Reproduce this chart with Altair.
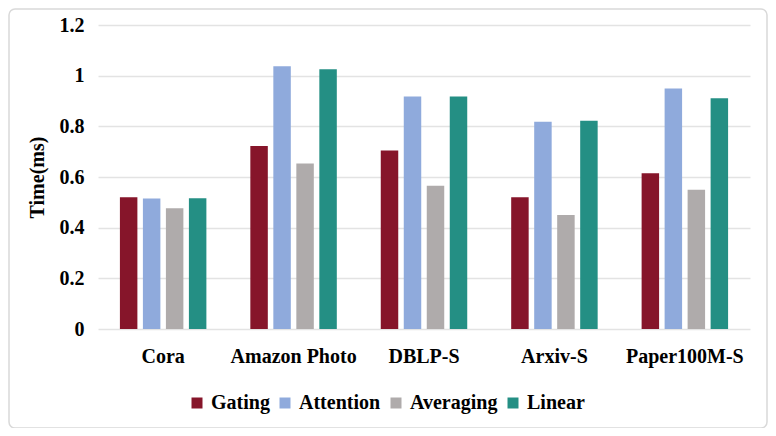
import altair as alt
import pandas as pd

datasets = ["Cora", "Amazon Photo", "DBLP-S", "Arxiv-S", "Paper100M-S"]
methods = ["Gating", "Attention", "Averaging", "Linear"]
colors = ["#86152A", "#8FAADC", "#AFABAB", "#248F84"]

gating = [0.52, 0.722, 0.705, 0.52, 0.615]
attention = [0.515, 1.037, 0.918, 0.818, 0.949]
averaging = [0.477, 0.653, 0.565, 0.45, 0.55]
linear = [0.516, 1.025, 0.918, 0.822, 0.911]

rows = []
for name, vals in zip(methods, [gating, attention, averaging, linear]):
    for ds, v in zip(datasets, vals):
        rows.append({"Dataset": ds, "Method": name, "Time": v})
df = pd.DataFrame(rows)

FONT = "Liberation Serif"
FS = 20
W, H = 652, 304

bars = (
    alt.Chart(df)
    .mark_bar()
    .encode(
        x=alt.X(
            "Dataset:N",
            sort=datasets,
            title=None,
            scale=alt.Scale(paddingInner=0.337, paddingOuter=0.168),
            axis=alt.Axis(
                labelAngle=0,
                labelPadding=17,
                labelFontSize=FS,
                labelFontWeight="bold",
                labelFont=FONT,
                labelColor="#000000",
                domain=False,
                ticks=False,
                grid=False,
            ),
        ),
        xOffset=alt.XOffset(
            "Method:N",
            sort=methods,
            scale=alt.Scale(paddingInner=0.24, paddingOuter=0),
        ),
        y=alt.Y(
            "Time:Q",
            title="Time(ms)",
            scale=alt.Scale(domain=[0, 1.2], nice=False),
            axis=alt.Axis(
                values=[0, 0.2, 0.4, 0.6, 0.8, 1.0, 1.2],
                format="~g",
                labelFontSize=FS,
                labelFontWeight="bold",
                labelFont=FONT,
                labelColor="#000000",
                labelPadding=14,
                titleFontSize=FS,
                titleFontWeight="bold",
                titleFont=FONT,
                titleColor="#000000",
                titlePadding=12,
                domain=False,
                ticks=False,
                gridColor="#E3E3E3",
                gridWidth=1.5,
            ),
        ),
        color=alt.Color(
            "Method:N",
            sort=methods,
            scale=alt.Scale(domain=methods, range=colors),
            legend=alt.Legend(
                title=None,
                orient="none",
                direction="horizontal",
                legendX=89,
                legendY=368,
                symbolType="square",
                symbolSize=121,
                symbolStrokeWidth=0,
                labelFontSize=FS,
                labelFontWeight="bold",
                labelFont=FONT,
                labelColor="#000000",
                columnPadding=5,
                labelOffset=4,
            ),
        ),
    )
)

# light rounded frame round the whole chart
border = (
    alt.Chart(pd.DataFrame({"k": [0]}))
    .mark_rect(
        fill="transparent",
        stroke="#D9D9D9",
        strokeWidth=1.5,
        cornerRadius=6,
        clip=False,
    )
    .encode(
        x=alt.value(-89),
        x2=alt.value(W + 17),
        y=alt.value(-16),
        y2=alt.value(H + 99),
    )
)

chart = (
    alt.layer(bars, border)
    .properties(
        width=W,
        height=H,
        background="#FFFFFF",
        autosize=alt.AutoSizeParams(type="none"),
        padding={"left": 90, "top": 17, "right": 18, "bottom": 99},
    )
    .configure_view(stroke="transparent", strokeWidth=0)
)

chart.save("out.html", embed_options={"renderer": "svg", "actions": False})
